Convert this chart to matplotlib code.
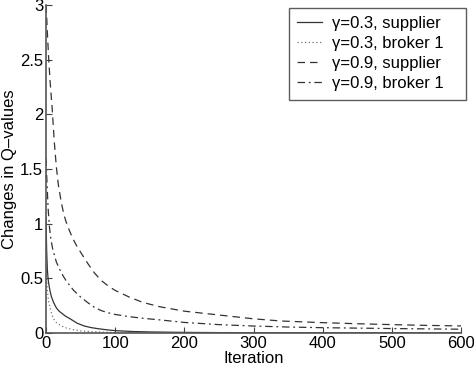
import matplotlib
matplotlib.use("Agg")
import matplotlib.pyplot as plt

plt.rcParams["font.family"] = ["Liberation Sans", "DejaVu Sans"]

# values
it_s03 = [0, 1, 2, 3, 4, 6, 8, 11, 15, 19, 23, 28, 35, 45, 55, 65, 75, 90, 100,
          125, 150, 200, 250, 400, 600]
val_s03 = [1.05, 0.75, 0.58, 0.5, 0.45, 0.38, 0.33, 0.28, 0.23, 0.2, 0.18, 0.155,
           0.13, 0.09, 0.065, 0.05, 0.04, 0.028, 0.022, 0.014, 0.01, 0.006, 0.004,
           0.002, 0.001]

it_b03 = [0, 1, 2, 3, 4, 6, 8, 10, 13, 16, 20, 24, 30, 40, 50, 60, 80, 100, 150,
          200, 600]
val_b03 = [0.6, 0.5, 0.4, 0.33, 0.28, 0.23, 0.18, 0.14, 0.11, 0.09, 0.075, 0.06,
           0.045, 0.03, 0.02, 0.015, 0.009, 0.006, 0.003, 0.002, 0.001]

it_s09 = [0, 1, 2, 4, 6, 9, 12, 15, 18, 22, 26, 30, 35, 40, 45, 50, 60, 70, 80,
          90, 100, 120, 140, 165, 200, 250, 300, 340, 400, 450, 500, 550, 600]
val_s09 = [3.0, 2.9, 2.75, 2.5, 2.3, 2.05, 1.75, 1.52, 1.35, 1.2, 1.08, 1.0, 0.92,
           0.85, 0.79, 0.74, 0.64, 0.55, 0.48, 0.43, 0.39, 0.33, 0.28, 0.24, 0.2,
           0.165, 0.13, 0.11, 0.095, 0.085, 0.077, 0.07, 0.065]

it_b09 = [0, 1, 2, 3, 5, 7, 10, 15, 20, 25, 30, 40, 50, 60, 70, 80, 90, 100, 120,
          140, 165, 200, 250, 300, 350, 400, 500, 600]
val_b09 = [1.6, 1.45, 1.3, 1.15, 0.97, 0.86, 0.76, 0.65, 0.58, 0.52, 0.47, 0.39,
           0.33, 0.28, 0.235, 0.205, 0.185, 0.17, 0.15, 0.135, 0.12, 0.097, 0.077,
           0.064, 0.055, 0.049, 0.041, 0.035]

labels = ["γ=0.3, supplier", "γ=0.3, broker 1", "γ=0.9, supplier", "γ=0.9, broker 1"]

fig = plt.figure(figsize=(4.74, 3.68), dpi=100)
ax = fig.add_axes([0.097, 0.095, 0.876, 0.891])

c = "#333333"
ax.plot(it_s03, val_s03, color=c, lw=0.9, ls="-", label=labels[0])
ax.plot(it_b03, val_b03, color="#777777", lw=0.9, ls=(0, (1, 2)), label=labels[1])
ax.plot(it_s09, val_s09, color=c, lw=0.9, ls=(0, (6, 4)), label=labels[2])
ax.plot(it_b09, val_b09, color=c, lw=0.9, ls=(0, (6, 3, 1.5, 3)), label=labels[3])

ax.set_xlim(0, 600)
ax.set_ylim(0, 3)
ax.set_xticks(range(0, 601, 100))
ax.set_yticks([0, 0.5, 1, 1.5, 2, 2.5, 3])
ax.set_yticklabels(["0", "0.5", "1", "1.5", "2", "2.5", "3"])
ax.tick_params(direction="in", length=4, labelsize=12, color="#444444", pad=2)
for s in ["top", "right"]:
    ax.spines[s].set_visible(False)
for s in ["left", "bottom"]:
    ax.spines[s].set_color("#555555")
    ax.spines[s].set_linewidth(1.2)

ax.set_xlabel("Iteration", fontsize=12, labelpad=0)
ax.set_ylabel("Changes in Q–values", fontsize=12, labelpad=2)

# legend box is wider on the right in the reference
leg = ax.legend([l + "   " for l in labels], loc="upper right",
                bbox_to_anchor=(466 / 474, 1 - 8 / 368),
                bbox_transform=fig.transFigure, fontsize=12, frameon=True,
                fancybox=False, edgecolor="#333333", handlelength=1.5,
                handletextpad=0.6, labelspacing=0.3, borderpad=0.5,
                borderaxespad=0)
leg.get_frame().set_linewidth(1.0)

fig.savefig("out.png", dpi=100)
